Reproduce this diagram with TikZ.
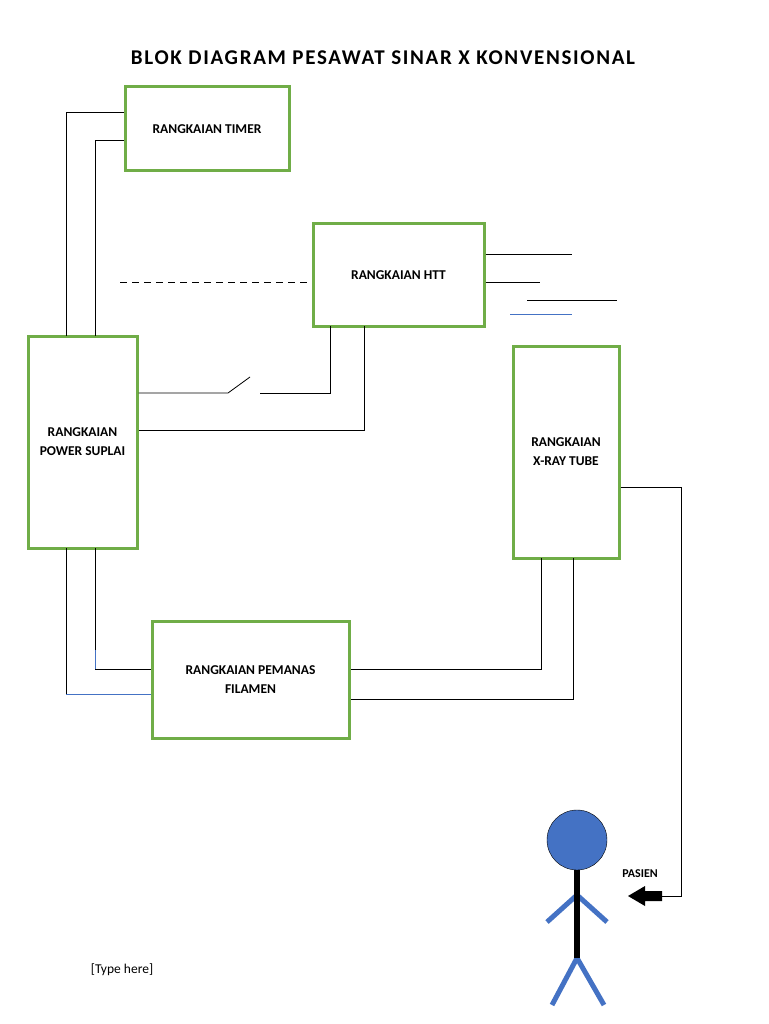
\documentclass[tikz,border=0pt]{standalone}
\usepackage{fontspec}
\setmainfont{Carlito}
\definecolor{boxgreen}{RGB}{112,173,71}
\definecolor{figblue}{RGB}{68,114,196}
\tikzset{
  blok/.style={rectangle, draw=boxgreen, line width=3pt, align=center,
    font=\fontsize{13.5}{19}\selectfont\bfseries, inner sep=0pt},
  wire/.style={draw=black, line width=0.8pt},
  bwire/.style={draw=figblue, line width=0.8pt}
}
\begin{document}
\begin{tikzpicture}[x=1pt,y=-1pt]
\useasboundingbox (0,0) rectangle (768,1024);
\node[font=\fontsize{21}{24}\selectfont\bfseries\addfontfeature{LetterSpace=8}] (title) at (383,58) {BLOK DIAGRAM PESAWAT SINAR X KONVENSIONAL};
\node[blok, minimum width=164pt, minimum height=84pt] (timer) at (207,129) {RANGKAIAN TIMER};
\node[blok, minimum width=171pt, minimum height=102pt] (htt) at (398.5,275) {RANGKAIAN HTT};
\node[blok, minimum width=109pt, minimum height=212pt] (ps) at (82.5,442) {RANGKAIAN\\POWER SUPLAI};
\node[blok, minimum width=106pt, minimum height=212pt] (xr) at (566,452) {RANGKAIAN\\X-RAY TUBE};
\node[blok, minimum width=197pt, minimum height=117pt] (fil) at (250.5,679.5) {RANGKAIAN PEMANAS\\FILAMEN};

% timer - power supply
\draw[wire] (timer.west |- 0,112) -- (66,112) -- (66,336);
\draw[wire] (timer.west |- 0,140) -- (95,140) -- (95,336);
% dashed line to HTT
\coordinate (d0) at (120,282);
\draw[wire, dash pattern=on 7pt off 5pt] (d0) -- (htt.west |- d0);
% switch
\coordinate (s1) at (228,393);
\coordinate (s2) at (250,377);
\coordinate (s3) at (260,393);
\draw[wire] (ps.east |- s1) -- (s1) -- (s2);
\draw[wire] (s3) -- (330,393) -- (330,326);
\draw[wire] (ps.east |- 0,430) -- (364,430) -- (364,326);
% HTT output lines
\coordinate (h1) at (572,254);
\coordinate (h2) at (540,282);
\coordinate (h3a) at (527,300);
\coordinate (h3b) at (617,300);
\coordinate (h4a) at (510,314);
\coordinate (h4b) at (572,314);
\draw[wire] (htt.east |- h1) -- (h1);
\draw[wire] (htt.east |- h2) -- (h2);
\draw[wire] (h3a) -- (h3b);
\draw[bwire] (h4a) -- (h4b);
% X-ray to filament
\draw[wire] (541,558) -- (541,669) -- (fil.east |- 0,669);
\draw[wire] (573,558) -- (573,699) -- (fil.east |- 0,699);
% power supply to filament
\draw[wire] (95,548) -- (95,650);
\draw[bwire] (95,650) -- (95,669);
\draw[wire] (95,669) -- (fil.west |- 0,669);
\draw[wire] (66,548) -- (66,694);
\draw[bwire] (66,694) -- (fil.west |- 0,694);
% X-ray to patient arrow
\coordinate (arr) at (662,896);
\fill[black] (arr) ++(0,-5) -- ++(-17,0) -- ++(0,-5) -- ++(-17,10) -- ++(17,10) -- ++(0,-5) -- ++(17,0) -- cycle;
\draw[wire] (xr.east |- 0,487) -- (681,487) -- (681,896) -- (arr);
\node[font=\fontsize{12}{14}\selectfont\bfseries] (pas) at (640,874) {PASIEN};
% patient
\node[circle, draw=black, fill=figblue, minimum size=60pt, inner sep=0pt] (head) at (577,840) {};
\coordinate (neck) at (577,895);
\coordinate (hip) at (577,958);
\draw[figblue, line width=5pt] (547,922) -- (neck) -- (607,922);
\draw[figblue, line width=5pt] (552,1005) -- (hip) -- (604,1005);
\draw[black, line width=6pt] (head.south) -- (hip);
\node[font=\fontsize{13.5}{16}\selectfont] (type) at (122,970) {[Type here]};
\end{tikzpicture}
\end{document}
